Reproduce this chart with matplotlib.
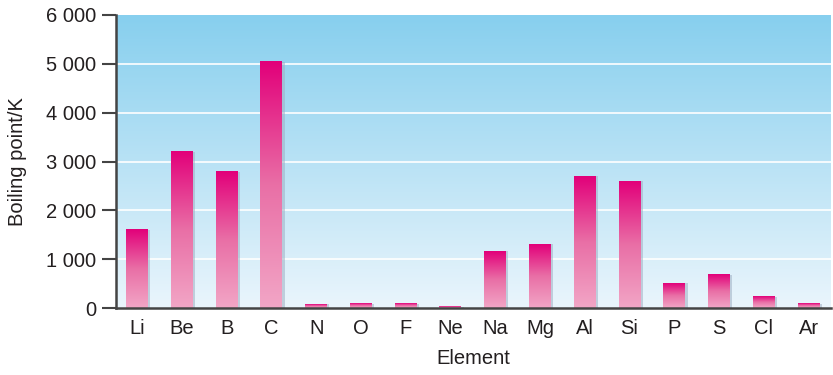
import numpy as np
import matplotlib.pyplot as plt
from matplotlib.colors import LinearSegmentedColormap
from matplotlib import font_manager

elements = ["Li", "Be", "B", "C", "N", "O", "F", "Ne", "Na", "Mg", "Al", "Si", "P", "S", "Cl", "Ar"]
boiling_k = [1600, 3200, 2790, 5040, 77, 90, 85, 27, 1160, 1310, 2700, 2600, 510, 680, 230, 87]
y_ticks = [0, 1000, 2000, 3000, 4000, 5000, 6000]
y_labels = ["0", "1 000", "2 000", "3 000", "4 000", "5 000", "6 000"]

names = {f.name for f in font_manager.fontManager.ttflist}
family = "Liberation Sans Narrow" if "Liberation Sans Narrow" in names else "Liberation Sans"
plt.rcParams["font.family"] = [family, "DejaVu Sans"]
fs = 15 if family == "Liberation Sans Narrow" else 14.5

fig = plt.figure(figsize=(8.33, 3.75), dpi=100)
ax = fig.add_axes([116 / 833, 1 - 308 / 375, (831 - 116) / 833, (308 - 15) / 375])

x = np.arange(len(elements))
xmin, xmax = -0.47, len(elements) - 0.5

# background gradient
bg = LinearSegmentedColormap.from_list("bg", ["#EAF5FC", "#87CFEE"])
ax.imshow(np.linspace(0, 1, 256).reshape(-1, 1), cmap=bg, aspect="auto",
          extent=[xmin, xmax, 0, 6000], origin="lower", zorder=0)

for t in y_ticks[1:-1]:
    ax.axhline(t, color="white", lw=1.2, zorder=1)

width = 0.49
# shadow
ax.bar(x + 0.05, boiling_k, width=width, color="#9FB0C4", alpha=0.55, zorder=2)
bars = ax.bar(x, boiling_k, width=width, color="none", zorder=3)

bar_cmap = LinearSegmentedColormap.from_list("bar", ["#F2A6C6", "#E96FA6", "#E2007A"])
grad = np.linspace(0, 1, 256).reshape(-1, 1)
for b in bars:
    x0, y0 = b.get_x(), b.get_y()
    ax.imshow(grad, cmap=bar_cmap, aspect="auto", origin="lower",
              extent=[x0, x0 + b.get_width(), y0, y0 + b.get_height()], zorder=3)
ax.set_xlim(xmin, xmax)
ax.set_ylim(0, 6000)

ax.set_xticks(x)
ax.set_xticklabels(elements, fontsize=fs, color="#231F20")
ax.tick_params(axis="x", length=0, pad=8)
ax.set_yticks(y_ticks)
ax.set_yticklabels(y_labels, fontsize=fs, color="#231F20")
ax.tick_params(axis="y", length=10, width=1.5, color="#444444", pad=4)

for s in ["top", "right"]:
    ax.spines[s].set_visible(False)
for s in ["left", "bottom"]:
    ax.spines[s].set_color("#444444")
    ax.spines[s].set_linewidth(1.8)
    ax.spines[s].set_zorder(5)

ax.set_xlabel("Element", fontsize=fs, color="#231F20", labelpad=8)
ax.set_ylabel("Boiling point/K", fontsize=fs, color="#231F20", labelpad=14)

fig.savefig("out.png", dpi=100)
